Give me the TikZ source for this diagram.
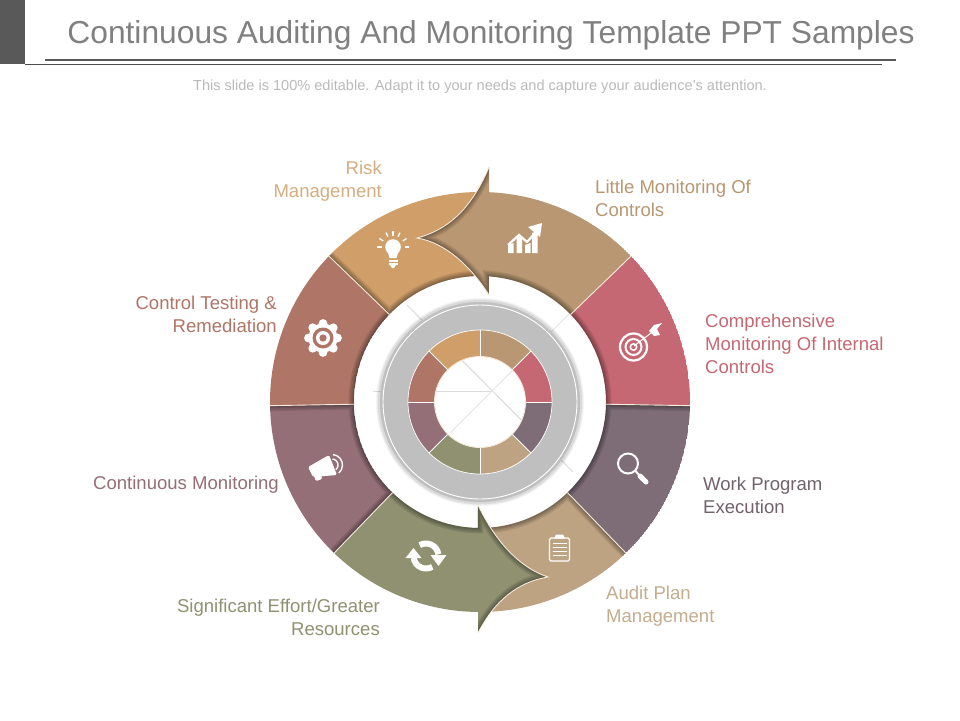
\documentclass[tikz,border=0pt]{standalone}
\usepackage{fontspec}
\setmainfont{Liberation Sans}
\definecolor{segPink}{HTML}{C66873}
\definecolor{segBrown}{HTML}{B89772}
\definecolor{segOrange}{HTML}{CF9E69}
\definecolor{segRed}{HTML}{AF7567}
\definecolor{segMaroon}{HTML}{946F77}
\definecolor{segPurple}{HTML}{7E6D77}
\definecolor{segTan}{HTML}{BEA383}
\definecolor{segGreen}{HTML}{8F9171}
\definecolor{seamCream}{HTML}{F6EBDC}
\tikzstyle{labelLeft}=[anchor = east, align = right, inner sep = 0pt, font = \fontsize{18.55}{23}\selectfont]
\tikzstyle{labelRight}=[anchor = west, align = left, inner sep = 0pt, font = \fontsize{18.55}{23}\selectfont]
\tikzstyle{seamLine}=[draw = seamCream, line width = 0.9pt]
\tikzstyle{innerShade}=[draw = black, opacity = 0.10]
\tikzstyle{fadedLine}=[draw = black!14, line width = 1pt]
\tikzstyle{iconFill}=[fill = white, draw = none]
\tikzstyle{iconLine}=[draw = white, line width = 1.6pt, fill = none]
\newcommand{\hubpt}[2]{([shift={(hub)}]#1:#2)}
\newcommand{\ringseg}[4]{\hubpt{#1}{#3} arc[start angle=#1, end angle=#2, radius=#3] -- \hubpt{#2}{#4} arc[start angle=#2, end angle=#1, radius=#4] -- cycle}
\newcommand{\shadedseg}[3]{\begin{scope}
\clip #2;
\fill[#1] #2;
\foreach \w in {11,8,5,2.5} {\draw[innerShade, line width = \w pt] #3;}
\end{scope}}
\begin{document}
\begin{tikzpicture}[x = 1pt, y = -1pt]
\useasboundingbox (0,0) rectangle (960,720);
\coordinate (hub) at (480,402);
\fill[white] (0,0) rectangle (960,720);
\fill[black!65] (0,0) rectangle (25,64);
\draw[black!65, line width = 1.5pt] (45,60) -- (896,60);
\draw[black!70, line width = 0.7pt] (25,64) -- (882,64);
\node[inner sep = 0pt, text = black!50, font = \fontsize{31.75}{36}\selectfont] (title) at (491,35.5) {Continuous Auditing And Monitoring Template PPT Samples};
\node[inner sep = 0pt, text = black!27, font = \fontsize{14.55}{16}\selectfont] (subtitle) at (480,86.5) {This slide is 100\% editable. Adapt it to your needs and capture your audience's attention.};
\draw[fadedLine] (373,391) -- (492,391);
\draw[fadedLine] (407,305) -- (573,472);
\draw[fadedLine, black!10] (570,313) -- (450,433);
\shadedseg{segPink}{\ringseg{-44}{1}{210}{126}}{\hubpt{-44}{126} arc[start angle=-44, end angle=1, radius=126]}
\shadedseg{segPurple}{\ringseg{1}{46}{210}{126}}{\hubpt{1}{210} -- \hubpt{1}{126} arc[start angle=1, end angle=46, radius=126]}
\shadedseg{segTan}{\ringseg{46}{87}{210}{126}}{\hubpt{46}{210} -- \hubpt{46}{126} arc[start angle=46, end angle=87, radius=126]}
\shadedseg{segMaroon}{\ringseg{134}{179}{210}{126}}{\hubpt{134}{210} -- \hubpt{134}{126} arc[start angle=134, end angle=179, radius=126] -- \hubpt{179}{210}}
\shadedseg{segRed}{\ringseg{179}{224}{210}{126}}{\hubpt{224}{126} arc[start angle=224, end angle=179, radius=126]}
\shadedseg{segOrange}{\ringseg{224}{272}{210}{126}}{\hubpt{224}{210} -- \hubpt{224}{126} arc[start angle=224, end angle=272, radius=126]}
\def\brownTips{(489,167) .. controls (475,200) and (455,228) .. (417,238) .. controls (448,243) and (473,270) .. (489,295)}
\def\greenTips{(478,505) .. controls (490,530) and (512,565) .. (548,577) .. controls (518,582) and (495,600) .. (478,633)}
\shadedseg{segBrown}{\hubpt{-44}{210} arc[start angle=-44, end angle=-87.5, radius=210] -- \brownTips -- \hubpt{-86}{126} arc[start angle=-86, end angle=-44, radius=126] -- cycle}{\brownTips -- \hubpt{-86}{126} arc[start angle=-86, end angle=-44, radius=126]}
\shadedseg{segGreen}{\hubpt{134}{126} arc[start angle=134, end angle=91, radius=126] -- \greenTips -- \hubpt{90.5}{210} arc[start angle=90.5, end angle=134, radius=210] -- cycle}{\hubpt{134}{126} arc[start angle=134, end angle=91, radius=126] -- \greenTips}
\draw[seamLine] \brownTips;
\draw[seamLine] \greenTips;
\foreach \a in {-44,1,46,134,179,224} {\draw[seamLine] \hubpt{\a}{126} -- \hubpt{\a}{210};}
\foreach \w/\o in {8/0.04,6/0.05,4/0.06} {\draw[draw = black, opacity = \o, line width = \w pt] (hub) circle[radius = 100];}
\fill[black!25, even odd rule] (hub) circle[radius = 100] (hub) circle[radius = 45.5];
\draw[white, line width = 0.9pt] (hub) circle[radius = 97];
\fill[segPink] \ringseg{-45}{0}{72}{45.5};
\fill[segPurple] \ringseg{0}{45}{72}{45.5};
\fill[segTan] \ringseg{45}{90}{72}{45.5};
\fill[segGreen] \ringseg{90}{135}{72}{45.5};
\fill[segMaroon] \ringseg{135}{180}{72}{45.5};
\fill[segRed] \ringseg{180}{225}{72}{45.5};
\fill[segOrange] \ringseg{225}{270}{72}{45.5};
\fill[segBrown] \ringseg{270}{315}{72}{45.5};
\foreach \a in {0,45,...,315} {\draw[draw = white, line width = 0.9pt] \hubpt{\a}{45.5} -- \hubpt{\a}{72};}
\draw[white, line width = 0.7pt] (hub) circle[radius = 72];
\draw[seamCream, line width = 0.9pt] (hub) circle[radius = 45.5];
\fill[iconFill] (393,247) circle[radius = 7.8];
\fill[iconFill] (387.5,251) -- (398.5,251) -- (396.5,258) -- (389.5,258) -- cycle;
\foreach \y in {259.5,262.5} {\fill[iconFill] (388.5,\y) rectangle (397.5,\y + 2);}
\fill[iconFill] (390,265) -- (396,265) -- (394,268) -- (392,268) -- cycle;
\foreach \a in {180,212,244,270,296,328,360} {\draw[iconLine, line width = 1.3pt] ([shift={(393,247)}]\a:11.5) -- ([shift={(393,247)}]\a:16);}
\foreach \x/\t in {508/245,516.5/238,525/245,532/233} {\fill[iconFill] (\x,\t) -- (\x + 5.5,\t - 2) -- (\x + 5.5,253) -- (\x,253) -- cycle;}
\draw[iconLine, line width = 2.2pt] (508,245) -- (519,235) -- (527,242) -- (537,231);
\fill[iconFill] (542,223) -- (540,237) -- (528,227) -- cycle;
\draw[iconLine, line width = 2.2pt] (633.5,347) circle[radius = 13.5];
\draw[iconLine, line width = 2pt] (633.5,347) circle[radius = 8];
\draw[iconLine, line width = 1.5pt] (633.5,347) circle[radius = 3.2];
\draw[iconLine, line width = 1pt] (634,346) -- (651,333);
\fill[iconFill] (649,331) -- (654,325) -- (662,323) -- (657,329) -- (660,335) -- (654,336) -- cycle;
\fill[iconFill] (323,338) circle[radius = 14.5];
\foreach \a in {0,45,...,315} {\fill[iconFill] ([shift={(323,338)}]\a:14.5) circle[radius = 4.4];}
\fill[segRed] (323,338) circle[radius = 10.5];
\fill[iconFill] (323,338) circle[radius = 7];
\fill[segRed] (323,338) circle[radius = 3.6];
\fill[iconFill, rounded corners = 1.5pt] (308,467) -- (329,455) -- (337,475) -- (313,477) -- cycle;
\fill[iconFill, rounded corners = 1pt] (313,474) -- (321,474) -- (322,479) -- (316,481) -- cycle;
\draw[iconLine, line width = 1.4pt] ([shift={(332,465)}]-85:6) arc[start angle=-85, end angle=50, radius=6];
\draw[iconLine, line width = 1.4pt] ([shift={(332,465)}]-85:10.5) arc[start angle=-85, end angle=50, radius=10.5];
\draw[iconLine, line width = 6pt] ([shift={(426,556)}]172:12.5) arc[start angle=172, end angle=60, radius=12.5];
\draw[iconLine, line width = 6pt] ([shift={(426,556)}]352:12.5) arc[start angle=352, end angle=240, radius=12.5];
\fill[iconFill] (405.5,558) -- (421.5,558) -- (413.5,548) -- cycle;
\fill[iconFill] (430.5,555) -- (446.5,555) -- (438.5,566) -- cycle;
\draw[iconLine, line width = 1.3pt, rounded corners = 1.5pt] (549.5,538) rectangle (569.5,561);
\fill[iconFill] (554,538.5) -- (556,534.5) -- (563,534.5) -- (565,538.5) -- cycle;
\foreach \y in {543,547,551,555} {\draw[iconLine, line width = 0.8pt] (552.5,\y) -- (566.5,\y);}
\draw[iconLine, line width = 2pt] (628,463.5) circle[radius = 10];
\draw[iconLine, line width = 2pt] (635.5,471) -- (640,476);
\draw[iconLine, line width = 5pt, line cap = round] (640,476) -- (646,482);
\node[labelLeft, text = segOrange!85!white] (riskLabel) at (382,181) {Risk\\Management};
\node[labelRight, text = segBrown] (littleLabel) at (595,198) {Little Monitoring Of\\Controls};
\node[labelRight, text = segPink] (comprehensiveLabel) at (705,343.5) {Comprehensive\\Monitoring Of Internal\\Controls};
\node[labelRight, text = segPurple!90!black] (workLabel) at (703,495) {Work Program\\Execution};
\node[labelRight, text = segTan!90!white] (auditLabel) at (606,606) {Audit Plan\\Management};
\node[labelLeft, text = segGreen] (significantLabel) at (380,617) {Significant Effort/Greater\\Resources};
\node[labelLeft, text = segMaroon] (continuousLabel) at (279,484.5) {Continuous Monitoring};
\node[labelLeft, text = segRed] (controlLabel) at (277,314) {Control Testing \&\\Remediation};
\end{tikzpicture}
\end{document}
